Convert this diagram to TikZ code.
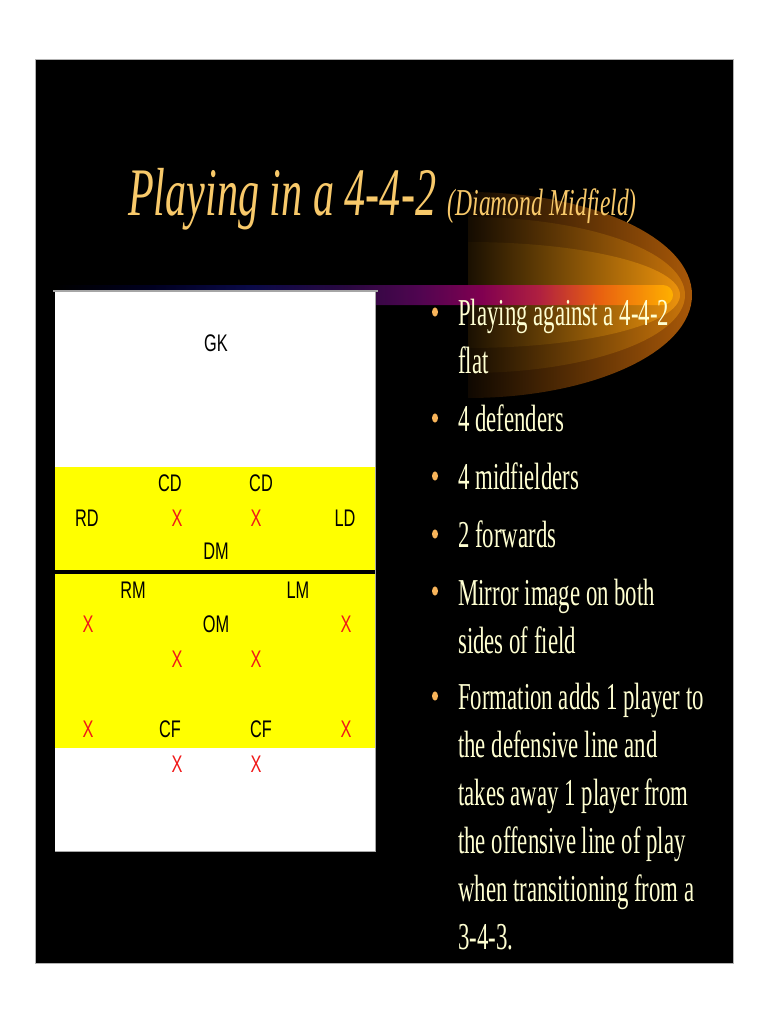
\documentclass[tikz,border=0pt]{standalone}
\usepackage{fontspec}
\setmainfont{Liberation Serif}
\newfontfamily\slidefont[FakeStretch=0.6]{Liberation Serif}
\newfontfamily\headfont[FakeStretch=0.62]{Liberation Serif}
\newfontfamily\fieldfont[FakeStretch=0.68]{Liberation Sans}
\definecolor{titlegold}{HTML}{F8C96A}
\definecolor{bodycream}{HTML}{FFFFD2}
\definecolor{bulletorange}{HTML}{F8B45A}
\definecolor{xred}{HTML}{F01818}
\definecolor{fieldyellow}{HTML}{FFFF00}
\definecolor{cometA}{HTML}{A85808}
\definecolor{cometB}{HTML}{C8740A}
\definecolor{cometC}{HTML}{EC920C}
\definecolor{barA}{HTML}{000020}
\definecolor{barB}{HTML}{0A0A48}
\definecolor{barC}{HTML}{2A0840}
\definecolor{barD}{HTML}{500550}
\definecolor{barE}{HTML}{800050}
\definecolor{barF}{HTML}{B02040}
\definecolor{barG}{HTML}{E86010}
\definecolor{barH}{HTML}{FFB000}
\pgfdeclarehorizontalshading{barshade}{100bp}{color(0bp)=(black); color(25bp)=(black); color(32.7bp)=(barA); color(40.8bp)=(barB); color(48.8bp)=(barC); color(54.5bp)=(barD); color(59.5bp)=(barE); color(64.2bp)=(barF); color(69bp)=(barG); color(75bp)=(barH); color(100bp)=(barH)}
\tikzset{
  bodyline/.style={anchor=base west, inner sep=0pt, text=bodycream, font=\slidefont\fontsize{38}{46}\selectfont},
  plabel/.style={inner sep=0pt, text=black, font=\fieldfont\fontsize{24}{24}\selectfont},
  xmark/.style={plabel, text=xred},
  bulletdot/.style={fill=bulletorange}
}
\begin{document}
\begin{tikzpicture}[x=1pt,y=-1pt]
\useasboundingbox (0,0) rectangle (768,1024);
\fill[white] (0,0) rectangle (768,1024);
% slide
\filldraw[fill=black, draw=gray!60, line width=1pt] (35,60) rectangle (733,963);
% comet glow
\begin{scope}
  \clip (468,295) ellipse (224 and 103);
  \shade[left color=cometA!9!black, right color=cometA] (468,190) rectangle (692,400);
\end{scope}
\begin{scope}
  \clip (468,295) ellipse (217 and 78);
  \shade[left color=cometB!10!black, right color=cometB] (468,210) rectangle (685,380);
\end{scope}
\begin{scope}
  \clip (468,295) ellipse (212 and 53);
  \shade[left color=cometC!11!black, right color=cometC] (468,240) rectangle (680,350);
\end{scope}
% bar
\shade[shading=barshade] (55,285) -- (663,285) arc[start angle=-90, end angle=90, radius=10] -- (55,305) -- cycle;
% title
\node[anchor=base west, inner sep=0pt, text=titlegold, font=\headfont\itshape\fontsize{68}{68}\selectfont] (title) at (128,215) {Playing in a 4-4-2\hspace{1pt} {\fontsize{38}{38}\selectfont (Diamond Midfield)}};
% field
\fill[white] (55,292) rectangle (375,851);
\fill[fieldyellow] (55,467) rectangle (375,570);
\fill[fieldyellow] (55,574) rectangle (375,748);
\fill[black] (55,570) rectangle (375,574);
\draw[gray!70, line width=0.8pt] (375,292) -- (375,851) -- (55,851);
\draw[gray!70, line width=2pt] (53,291) -- (378,291);
% labels
\node[plabel] (gk) at (216,343) {GK};
\node[plabel] (cd1) at (170,483) {CD};
\node[plabel] (cd2) at (261,483) {CD};
\node[plabel] (rd) at (87,518) {RD};
\node[xmark] (x1) at (177,518) {X};
\node[xmark] (x2) at (256,518) {X};
\node[plabel] (ld) at (345,518) {LD};
\node[plabel] (dm) at (216,551) {DM};
\node[plabel] (rm) at (133,590) {RM};
\node[plabel] (lm) at (298,590) {LM};
\node[xmark] (x3) at (88,624) {X};
\node[plabel] (om) at (216,624) {OM};
\node[xmark] (x4) at (346,624) {X};
\node[xmark] (x5) at (177,659) {X};
\node[xmark] (x6) at (256,659) {X};
\node[xmark] (x7) at (88,729) {X};
\node[plabel] (cf1) at (170,729) {CF};
\node[plabel] (cf2) at (261,729) {CF};
\node[xmark] (x8) at (346,729) {X};
\node[xmark] (x9) at (177,764) {X};
\node[xmark] (x10) at (256,764) {X};
% bullets
\foreach \yy in {312,418,476,534,591,696} {\fill[bulletdot] (435,\yy) ellipse (3 and 4.6);}
\node[bodyline] (b1a) at (458,325) {Playing against a 4-4-2};
\node[bodyline] (b1b) at (458,373) {flat};
\node[bodyline] (b2) at (458,431) {4 defenders};
\node[bodyline] (b3) at (458,489) {4 midfielders};
\node[bodyline] (b4) at (458,547) {2 forwards};
\node[bodyline] (b5a) at (458,605) {Mirror image on both};
\node[bodyline] (b5b) at (458,653) {sides of field};
\node[bodyline] (b6a) at (458,709) {Formation adds 1 player to};
\node[bodyline] (b6b) at (458,757) {the defensive line and};
\node[bodyline] (b6c) at (458,805) {takes away 1 player from};
\node[bodyline] (b6d) at (458,853) {the offensive line of play};
\node[bodyline] (b6e) at (458,901) {when transitioning from a};
\node[bodyline] (b6f) at (458,949) {3-4-3.};
\end{tikzpicture}
\end{document}
